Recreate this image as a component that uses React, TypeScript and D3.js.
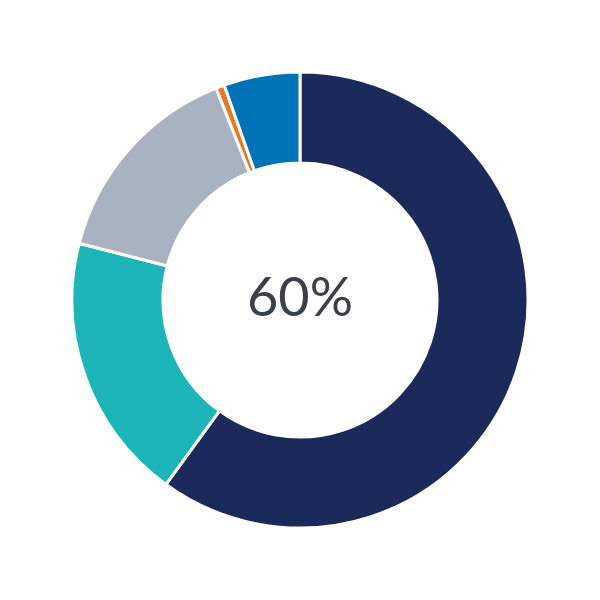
import React, { useEffect, useRef } from 'react';
import * as d3 from 'd3';

const labels = ['A', 'B', 'C', 'D', 'E'];
const values = [60, 19, 15, 0.6, 5.4];
const colors = ['#1b2a5a', '#1db5b8', '#a9b2c0', '#e87722', '#0073b6'];
const centerLabel = '60%';

const App = () => {
  const ref = useRef(null);

  useEffect(() => {
    const width = 600;
    const height = 600;
    const outer = 228;
    const inner = 137;

    d3.select(ref.current).selectAll('*').remove();

    const svg = d3.select(ref.current)
      .append('svg')
      .attr('width', width)
      .attr('height', height)
      .style('position', 'absolute')
      .style('left', '0px')
      .style('top', '0px')
      .append('g')
      .attr('transform', `translate(300,300)`);

    const pie = d3.pie().sort(null).value((d: any) => d.value);
    const arc = d3.arc().innerRadius(inner).outerRadius(outer);

    const data = labels.map((l, i) => ({ label: l, value: values[i], color: colors[i] }));

    svg.selectAll('path')
      .data(pie(data as any))
      .enter()
      .append('path')
      .attr('d', arc as any)
      .attr('fill', (d: any) => d.data.color)
      .attr('stroke', '#fff')
      .attr('stroke-width', 3);

    // centre label
    svg.append('text')
      .attr('x', 0)
      .attr('y', -3)
      .attr('dy', '0.35em')
      .attr('text-anchor', 'middle')
      .style('font-family', 'Lato, sans-serif')
      .style('font-weight', 400)
      .style('font-size', '54px')
      .attr('fill', '#3b4148')
      .text(centerLabel);
  }, []);

  return <div ref={ref} />;
};

export default App;
